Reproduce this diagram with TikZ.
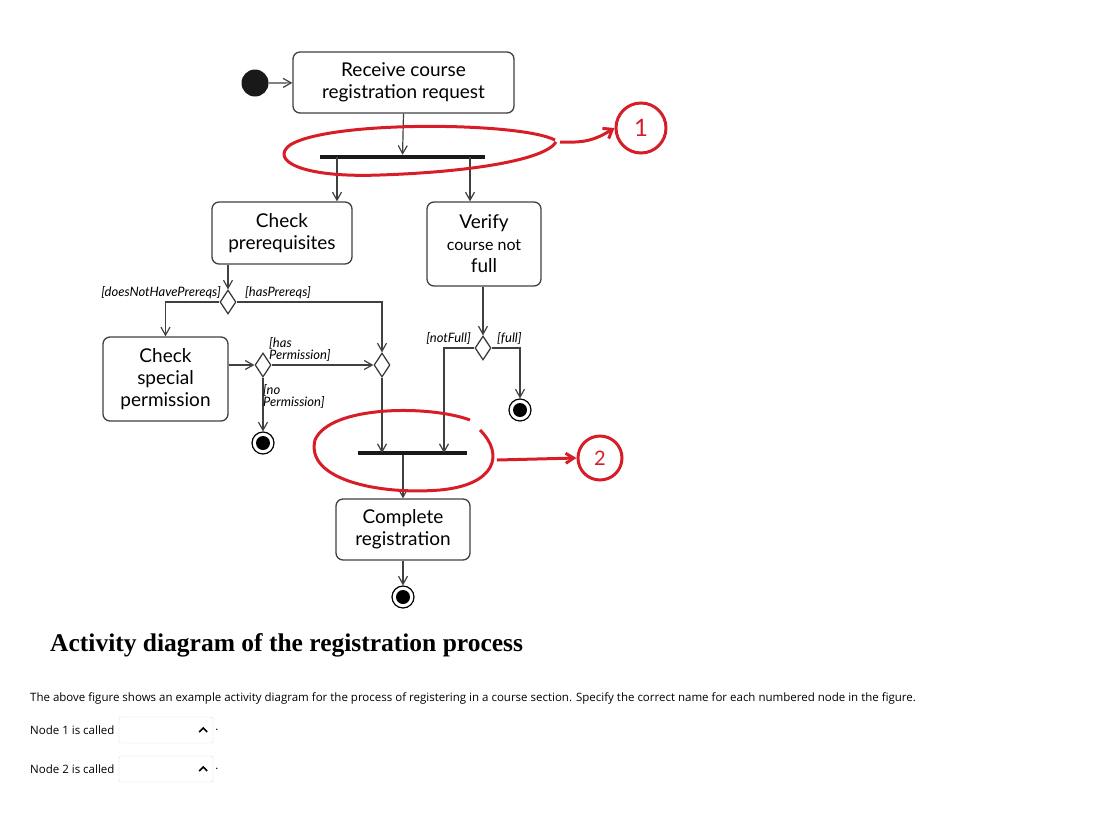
\documentclass[tikz,border=0pt]{standalone}
\usepackage{fontspec}
\setmainfont{Liberation Serif}
\newfontfamily\dfont{Lato}
\newfontfamily\ufont{Open Sans}
\usetikzlibrary{arrows.meta,shapes.geometric}
\definecolor{ann}{RGB}{215,30,40}
\begin{document}
\begin{tikzpicture}[x=1pt,y=-1pt,
  act/.style={draw=black!75,line width=1.3pt,rounded corners=7pt,font=\dfont\fontsize{19}{22}\selectfont,align=center,inner sep=0pt},
  dec/.style={draw=black!80,line width=1.2pt,diamond,minimum width=16pt,minimum height=24pt,inner sep=0pt,fill=white},
  fl/.style={draw=black!75,line width=1.2pt,-{Straight Barb[length=8pt,width=9pt]}},
  bar/.style={fill=black!90,inner sep=0pt},
  endn/.style={circle,draw=black,line width=1.2pt,minimum size=22pt,inner sep=0pt,path picture={\fill (path picture bounding box.center) circle (7pt);}},
  grd/.style={font=\dfont\itshape\fontsize{13}{12}\selectfont,inner sep=1pt,align=left},
  red/.style={draw=ann,line width=3pt},
  dd/.style={draw=black!15,rounded corners=2pt,minimum width=94pt,minimum height=26pt,inner sep=0pt},
  ut/.style={font=\ufont\fontsize{11.5}{13}\selectfont,inner sep=0pt,anchor=west}]
\useasboundingbox (0,0) rectangle (1096,815);
\node[circle,fill=black!90,minimum size=27pt,inner sep=0pt] (start) at (255,83) {};
\node[act,minimum width=221pt,minimum height=61pt] (recv) at (403.5,82.5) {Receive course\\registration request};
\node[bar,minimum width=165pt,minimum height=4pt] (fork) at (402.5,157) {};
\node[act,minimum width=140pt,minimum height=62pt] (cpre) at (282,233) {Check\\prerequisites};
\node[act,minimum width=114pt,minimum height=84pt] (ver) at (484,244) {Verify\\{\fontsize{16}{18}\selectfont course not}\\full};
\node[dec] (d1) at (228,302) {};
\node[act,minimum width=125pt,minimum height=84pt] (csp) at (165.5,379) {Check\\special\\permission};
\node[dec] (d2) at (263,365) {};
\node[dec] (m1) at (382,365) {};
\node[endn] (e1) at (263,443) {};
\node[dec] (d3) at (483,348) {};
\node[endn] (e2) at (520,410) {};
\node[bar,minimum width=109pt,minimum height=4pt] (join) at (412.5,453) {};
\node[act,minimum width=134pt,minimum height=61pt] (comp) at (403,529.5) {Complete\\registration};
\node[endn] (e3) at (403,597) {};
\coordinate (fl) at (337,157); \coordinate (fr) at (470,157);
\coordinate (jl) at (382,453); \coordinate (jr) at (444,453);
\draw[fl] (start) -- (recv);
\draw[fl] (recv.south) -- (fork);
\draw[fl] (fl) -- (fl|-cpre.north);
\draw[fl] (fr) -- (fr|-ver.north);
\draw[fl] (cpre.south-|d1) -- (d1.north);
\draw[fl] (d1.west) -| (csp.north);
\draw[fl] (d1.east) -| (m1.north);
\draw[fl] (csp.east|-d2) -- (d2.west);
\draw[fl] (d2.east) -- (m1.west);
\draw[fl] (d2.south) -- (e1.north);
\draw[fl] (m1.south) -- (jl);
\draw[fl] (ver.south-|d3) -- (d3.north);
\draw[fl] (d3.west) -| (jr);
\draw[fl] (d3.east) -| (e2.north);
\draw[fl] (join.south-|comp) -- (comp.north);
\draw[fl] (comp.south) -- (e3.north);
\node[grd,anchor=south east] at (222,300) {[doesNotHavePrereqs]};
\node[grd,anchor=south west] at (244,300) {[hasPrereqs]};
\node[grd,anchor=south west] at (268,363) {[has\\Permission]};
\node[grd,anchor=north west] at (262,383) {[no\\Permission]};
\node[grd,anchor=south east] at (472,346) {[notFull]};
\node[grd,anchor=south west] at (496,346) {[full]};
\node[anchor=west,inner sep=0pt,font=\bfseries\fontsize{25.5}{26}\selectfont] (title) at (50,645) {Activity diagram of the registration process};
% annotations
\draw[red] (555,140) .. controls (520,122) and (330,120) .. (290,145) .. controls (270,160) and (300,178) .. (380,175) .. controls (470,172) and (545,160) .. (556,142);
\node[circle,red,minimum size=50pt] (c1) at (641,128) {};
\node[font=\dfont\fontsize{24}{24}\selectfont,text=ann] at (c1) {1};
\draw[red,-{Straight Barb[length=8pt,width=12pt]}] (560,142) .. controls (585,143) and (595,140) .. (c1.west);
\draw[red] (470,420) .. controls (430,405) and (330,405) .. (315,440) .. controls (305,480) and (380,495) .. (440,490) .. controls (495,485) and (505,455) .. (480,430);
\node[circle,red,minimum size=44pt] (c2) at (600,458) {};
\node[font=\dfont\fontsize{20}{20}\selectfont,text=ann] at (c2) {2};
\draw[red,-{Straight Barb[length=8pt,width=10pt]}] (497,460) -- (c2.west);
% question text
\node[ut] (q) at (30,698) {The above figure shows an example activity diagram for the process of registering in a course section. Specify the correct name for each numbered node in the figure.};
\node[ut] (n1) at (30,730) {Node 1 is called};
\node[dd] (s1) at (166,730) {};
\node[ut] at (s1.east) {\,.};
\draw[line width=1.5pt] ([xshift=-14pt,yshift=-2pt]s1.east) -- ++(4pt,4pt) -- ++(4pt,-4pt);
\node[ut] (n2) at (30,769) {Node 2 is called};
\node[dd] (s2) at (166,769) {};
\node[ut] at (s2.east) {\,.};
\draw[line width=1.5pt] ([xshift=-14pt,yshift=-2pt]s2.east) -- ++(4pt,4pt) -- ++(4pt,-4pt);
\end{tikzpicture}
\end{document}
